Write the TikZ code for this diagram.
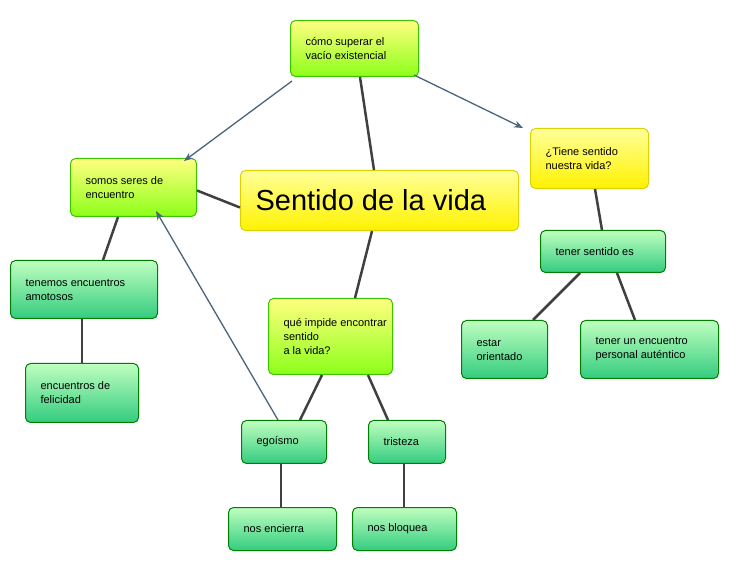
\documentclass[tikz,border=0pt]{standalone}
\usepackage{fontspec}
\setmainfont{Liberation Sans}
\usetikzlibrary{arrows.meta}
\definecolor{arrc}{RGB}{75,100,125}
\begin{document}
\begin{tikzpicture}[x=1pt,y=-1pt,
  box/.style={draw=#1, line width=1pt, rounded corners=5pt, anchor=north west, inner sep=0pt},
  yel/.style={box=yellow!70!olive, top color=yellow!40!white, bottom color=yellow!90!orange},
  yg/.style={box=green!55!olive, top color=yellow!50!white, bottom color=green!50!yellow!90},
  grn/.style={box=green!50!black, top color=green!25!white, bottom color=green!50!cyan!75!black!80},
  arr/.style={draw=arrc, line width=1.3pt, -{Stealth[length=9pt,width=7pt]}},
  link/.style={draw=gray!50!black, line width=2.5pt}]
\useasboundingbox (0,0) rectangle (729,561);
\newcommand{\bx}[7]{\node[#1, minimum width=#4, minimum height=#5] (#2) at (#3) {};
  \node[anchor=west, align=left, font=#7] at ([xshift=12pt]#2.west) {#6};}
\def\f{\fontsize{11}{14}\selectfont}
\bx{yg}{top}{290,20}{128pt}{56pt}{cómo superar el\\vacío existencial}{\f}
\bx{yel}{cen}{240,170}{278pt}{60pt}{Sentido de la vida}{\fontsize{29}{32}\selectfont}
\bx{yel}{tiene}{530,128}{118pt}{60pt}{¿Tiene sentido\\nuestra vida?}{\f}
\bx{yg}{somos}{70,158}{126pt}{58pt}{somos seres de\\encuentro}{\f}
\bx{grn}{tenemos}{10,260}{147pt}{58pt}{tenemos encuentros\\ amotosos}{\f}
\bx{grn}{felic}{25,363}{113pt}{59pt}{encuentros de\\felicidad}{\f}
\bx{yg}{que}{268,298}{124pt}{76pt}{qué impide encontrar\\ sentido\\ a la vida?}{\f}
\bx{grn}{ego}{241,420}{85pt}{43pt}{egoísmo}{\f}
\bx{grn}{tris}{368,420}{77pt}{43pt}{tristeza}{\f}
\bx{grn}{encierra}{228,507}{108pt}{43pt}{nos encierra}{\f}
\bx{grn}{bloquea}{352,507}{104pt}{43pt}{nos bloquea}{\f}
\bx{grn}{tener}{540,230}{125pt}{42pt}{tener sentido es}{\f}
\bx{grn}{estar}{461,320}{86pt}{58pt}{estar\\orientado}{\f}
\bx{grn}{tenerun}{580,320}{138pt}{58pt}{tener un encuentro\\personal auténtico}{\f}
\draw[link] ([xshift=70pt]top.south west) -- ([xshift=134pt]cen.north west);
\draw[link] ([yshift=-3pt]somos.east) -- ([yshift=-7pt]cen.west);
\draw[link] ([xshift=132pt]cen.south west) -- ([xshift=87pt]que.north west);
\draw[link] ([xshift=65pt]tiene.south west) -- ([xshift=62pt]tener.north west);
\draw[link] ([xshift=40pt]tener.south west) -- ([xshift=72pt]estar.north west);
\draw[link] ([xshift=77pt]tener.south west) -- ([xshift=55pt]tenerun.north west);
\draw[link] ([xshift=48pt]somos.south west) -- ([xshift=93pt]tenemos.north west);
\draw[link] ([xshift=72pt]tenemos.south west) -- ([xshift=57pt]felic.north west);
\draw[link] ([xshift=54pt]que.south west) -- ([xshift=59pt]ego.north west);
\draw[link] ([xshift=100pt]que.south west) -- ([xshift=20pt]tris.north west);
\draw[link] ([xshift=40pt]ego.south west) -- ([xshift=53pt]encierra.north west);
\draw[link] ([xshift=36pt]tris.south west) -- ([xshift=52pt]bloquea.north west);
\draw[arr] ([xshift=2pt,yshift=-4pt]top.south west) -- ([xshift=-13pt,yshift=-3pt]somos.north east);
\draw[arr] ([xshift=-5pt,yshift=2pt]top.south east) -- ([xshift=-7pt]tiene.north west);
\draw[arr] ([xshift=37pt]ego.north west) -- ([xshift=-41pt,yshift=6pt]somos.south east);
\end{tikzpicture}
\end{document}
